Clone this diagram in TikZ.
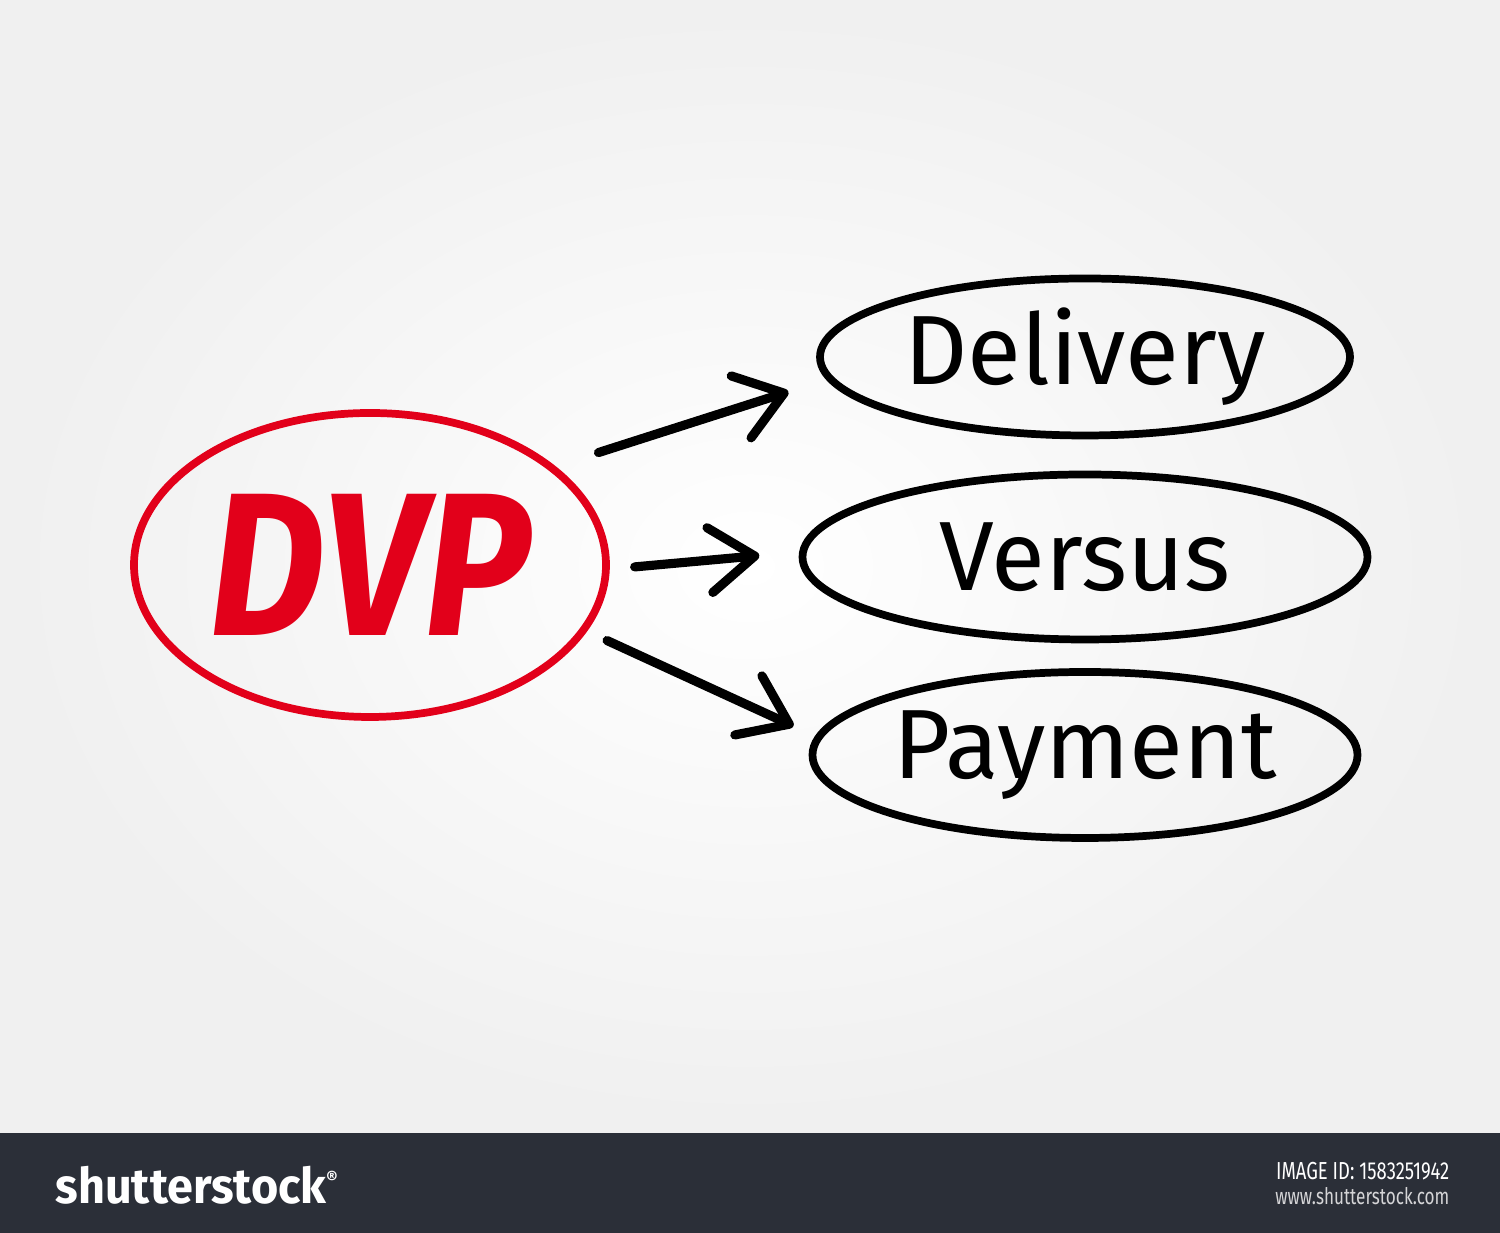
\documentclass[tikz,border=0pt]{standalone}
\usepackage{fontspec}
\setmainfont{Fira Sans}
\usetikzlibrary{shapes.geometric,arrows.meta}
\definecolor{dvpred}{RGB}{226,0,26}
\definecolor{barcol}{RGB}{43,47,56}
\begin{document}
\begin{tikzpicture}[
	oval/.style={ellipse,draw,line width=2.2pt,inner sep=0pt},
	word/.style={font=\fontsize{28}{28}\selectfont\mdseries},
	arrowline/.style={line width=2.6pt,line cap=round,-{Straight Barb[length=4.5mm,width=6.5mm,line cap=round,round]}}]
		\useasboundingbox (0,0) rectangle (15,12.33);
		\shade[inner color=white,outer color=black!6] (0,1) rectangle (15,12.33);
		\fill[barcol] (0,0) rectangle (15,1);
		\node[oval,draw=dvpred,text=dvpred,minimum width=4.72cm,minimum height=3.04cm,font=\fontsize{58}{58}\selectfont\bfseries\itshape] (dvp) at (3.70,6.68) {\scalebox{0.88}[1]{DVP}};
		\node[oval,word,minimum width=5.30cm,minimum height=1.57cm] (delivery) at (10.85,8.76) {\raisebox{-0.8mm}{Delivery}};
		\node[oval,word,minimum width=5.65cm,minimum height=1.65cm] (versus) at (10.85,6.76) {Versus};
		\node[oval,word,minimum width=5.45cm,minimum height=1.66cm] (payment) at (10.85,4.78) {\raisebox{-1.5mm}{Payment}};
		\draw[arrowline,shorten <=0.45cm,shorten >=0.4cm] (dvp.28) -- (delivery.185);
		\draw[arrowline,shorten <=0.25cm,shorten >=0.4cm] (dvp.-1) -- (versus.179);
		\draw[arrowline,shorten <=0.22cm,shorten >=0.24cm] (dvp.-17) -- (payment.176);
		\node[text=white,anchor=west,inner sep=0pt,font=\fontsize{14}{14}\selectfont\bfseries] (logo) at (0.55,0.48) {\scalebox{0.95}[1]{shutterstock}\textsuperscript{\tiny ®}};
		\node[text=white,anchor=east,inner sep=0pt,font=\fontsize{7}{7}\selectfont] (imageid) at (14.50,0.62) {\scalebox{0.75}[1]{IMAGE ID: 1583251942}};
		\node[text=white!80!barcol,anchor=east,inner sep=0pt,font=\fontsize{6.5}{6.5}\selectfont] (website) at (14.50,0.37) {\scalebox{0.75}[1]{www.shutterstock.com}};
		\end{tikzpicture}
\end{document}
